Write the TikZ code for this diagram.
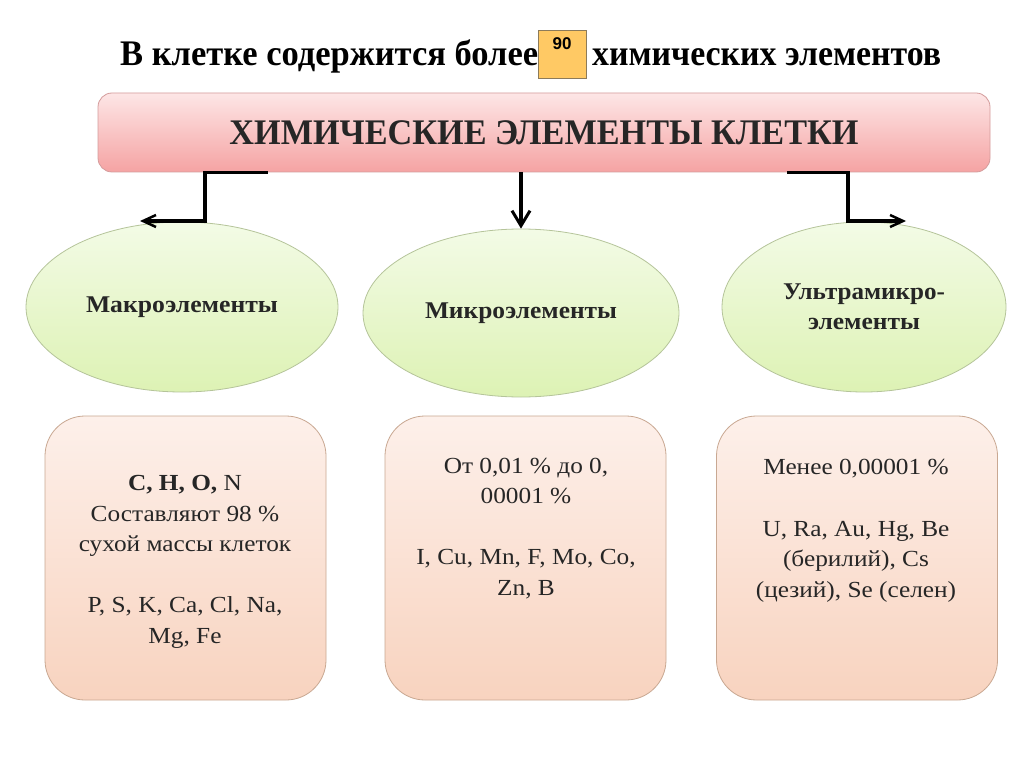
\documentclass[tikz,border=0pt]{standalone}
\usepackage{fontspec}
\setmainfont{Liberation Serif}
\newfontfamily\bxfont[FakeStretch=1.1]{Liberation Serif}
\newfontfamily\numfont{Liberation Sans}
\usetikzlibrary{shapes.geometric,arrows.meta}
\definecolor{hdrtop}{HTML}{FDE6E6}
\definecolor{hdrbot}{HTML}{F5A3A3}
\definecolor{hdrline}{HTML}{D49C9C}
\definecolor{elltop}{HTML}{F3FBE6}
\definecolor{ellbot}{HTML}{DDF2B4}
\definecolor{ellline}{HTML}{B5C49A}
\definecolor{boxtop}{HTML}{FDF0EA}
\definecolor{boxbot}{HTML}{F8D3BF}
\definecolor{boxline}{HTML}{C9A892}
\definecolor{numfill}{HTML}{FFC964}
\definecolor{numline}{HTML}{8C7B5A}
\definecolor{txt}{HTML}{262626}
\begin{document}
\begin{tikzpicture}[x=1pt,y=-1pt,
  conn/.style={line width=3.5pt},
  sidetip/.style={-{Straight Barb[length=13pt,width=12pt,line width=2.5pt]}},
  midtip/.style={-{Straight Barb[length=15pt,width=18pt,line width=3pt]}},
  hdr/.style={draw=hdrline, line width=0.8pt, rounded corners=14pt, top color=hdrtop, bottom color=hdrbot,
    minimum width=892pt, minimum height=79pt, inner sep=0pt, text=txt},
  numbox/.style={draw=numline, line width=0.8pt, fill=numfill, minimum width=48pt, minimum height=48pt, inner sep=0pt},
  ell/.style={ellipse, draw=ellline, line width=0.8pt, top color=elltop, bottom color=ellbot, inner sep=0pt, text=txt, align=center,
    font=\fontsize{24}{30}\selectfont},
  infobox/.style={draw=boxline, line width=0.8pt, rounded corners=40pt, top color=boxtop, bottom color=boxbot,
    minimum width=281pt, minimum height=284pt, inner sep=0pt},
  boxtext/.style={align=center, inner sep=0pt, anchor=base, text=txt, font=\bxfont\fontsize{23}{30.5}\selectfont},
  plain/.style={inner sep=0pt, anchor=base west}
]
\useasboundingbox (0,0) rectangle (1024,767);
\fill[white] (0,0) rectangle (1024,767);

% title
\node[plain] (t1) at (120,66) {\resizebox{418pt}{\height}{\fontsize{36}{40}\selectfont\bfseries В клетке содержится более}};
\node[numbox] (n90) at (562,54) {};
\node[inner sep=0pt] (n90t) at ([yshift=-14pt]n90.north) {\numfont\bfseries\fontsize{17}{17}\selectfont 90};
\node[plain] (t2) at (592,66) {\resizebox{349pt}{\height}{\fontsize{36}{40}\selectfont\bfseries химических элементов}};

% header
\node[hdr] (hdr) at (544,132.5) {\resizebox{629pt}{\height}{\fontsize{36}{36}\selectfont\bfseries ХИМИЧЕСКИЕ ЭЛЕМЕНТЫ КЛЕТКИ}};

% ellipses
\node[ell, minimum width=312pt, minimum height=170pt] (e1) at (182,307)
  {\resizebox{192pt}{\height}{\bfseries Макроэлементы}};
\node[ell, minimum width=316pt, minimum height=168pt] (e2) at (521,313)
  {\resizebox{192pt}{\height}{\bfseries Микроэлементы}};
\node[ell, minimum width=284pt, minimum height=170pt] (e3) at (864,307)
  {\resizebox{162pt}{\height}{\bfseries Ультрамикро-}\\
   \resizebox{112pt}{\height}{\bfseries элементы}};

% coordinates for side arrow ends
\coordinate (aL) at (140,221);
\coordinate (aR) at (906,221);

% connectors
\draw[conn, sidetip] ([xshift=-276pt]hdr.south) -| (205,221) -- (aL);
\draw[conn, midtip] (hdr.south -| e2.north) -- (e2.north);
\draw[conn, sidetip] ([xshift=243pt]hdr.south) -| (848,221) -- (aR);

% boxes
\node[infobox] (b1) at (185.5,558) {};
\node[infobox] (b2) at (525.5,558) {};
\node[infobox] (b3) at (857,558) {};

% multi-line text: base anchor = baseline of the last line
\node[boxtext] (b1t) at (185,643) {{\bfseries C, H, O,} N\\Составляют 98 \%\\сухой массы клеток\\[30.5pt]P, S, K, Ca, Cl, Na,\\Mg, Fe};
\node[boxtext] (b2t) at (526,595) {От 0,01 \% до 0,\\00001 \%\\[30.5pt]I, Cu, Mn, F, Mo, Co,\\Zn, B};
\node[boxtext] (b3t) at (856,597) {Менее 0,00001 \%\\[31pt]U, Ra, Au, Hg, Be\\(берилий), Cs\\(цезий), Se (селен)};
\end{tikzpicture}
\end{document}
